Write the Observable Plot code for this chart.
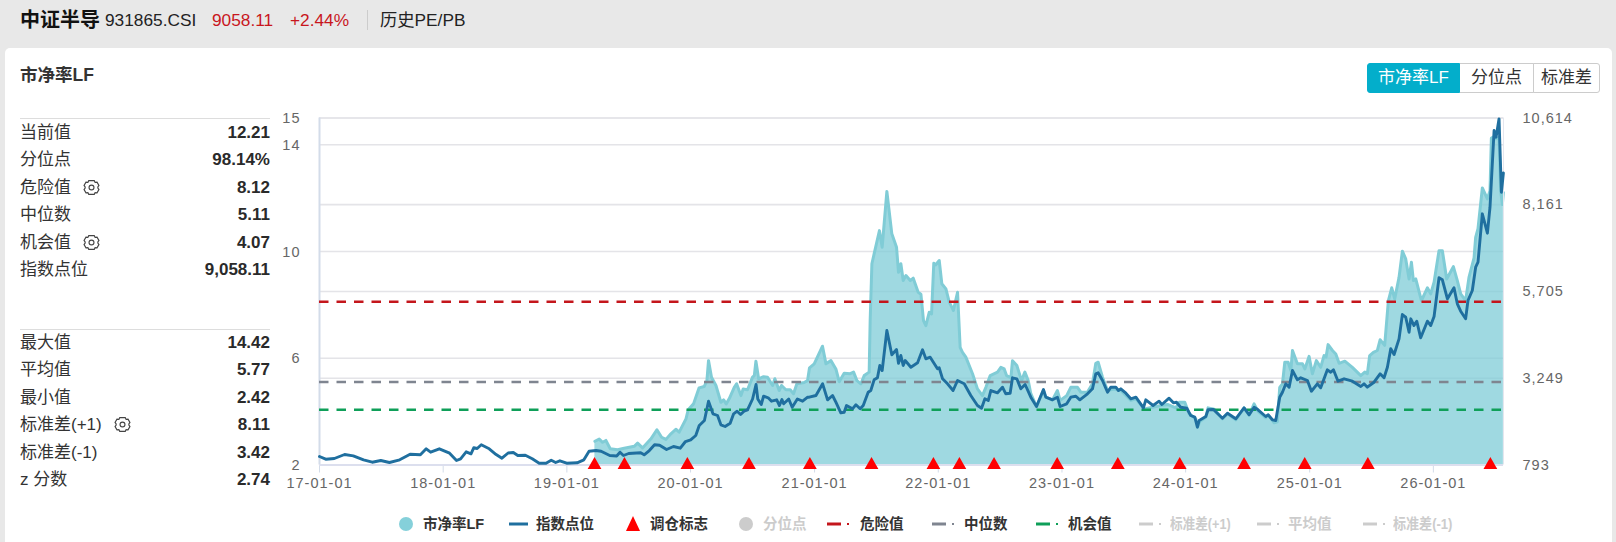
<!DOCTYPE html>
<html lang="zh">
<head>
<meta charset="utf-8">
<script src="https://cdn.jsdelivr.net/npm/d3@7"></script>
<script src="https://cdn.jsdelivr.net/npm/@observablehq/plot@0.6"></script>
<style>
html,body{margin:0;padding:0;}
body{width:1616px;height:542px;background:#e8e8e8;position:relative;overflow:hidden;font-family:"Liberation Sans","Noto Sans CJK SC",sans-serif;color:#222;}
.abs{position:absolute;white-space:nowrap;}
#card{position:absolute;left:5px;top:48px;width:1607px;height:500px;background:#fff;border-radius:5px;}
#chart{position:absolute;left:0;top:0;}
.hr{position:absolute;left:20px;width:250px;height:1px;background:#ddd;}
.lab{position:absolute;left:20px;font-size:17px;line-height:20px;color:#333;white-space:nowrap;}
.val{position:absolute;right:1346px;font-size:17px;line-height:20px;font-weight:bold;color:#2a2a2a;white-space:nowrap;}
.btn{position:absolute;top:63px;height:30px;line-height:28px;box-sizing:border-box;text-align:center;font-size:17px;border:1px solid #ccc;color:#333;background:#fff;}
.lg{position:absolute;top:514px;font-size:14.5px;line-height:20px;font-weight:bold;color:#333;white-space:nowrap;transform-origin:left center;}
.off{color:#ccc;}
.sw{position:absolute;top:514px;width:30px;height:20px;}
</style>
</head>
<body>
<div id="card"></div>
<div id="chart"></div>
<div id="ui"></div>
<script>
const titleName = "中证半导", titleCode = "931865.CSI", titlePrice = "9058.11", titleChange = "+2.44%", titleTab = "历史PE/PB";
const cardTitle = "市净率LF";
const statsTop = [["当前值","12.21"],["分位点","98.14%"],["危险值","8.12",1],["中位数","5.11"],["机会值","4.07",1],["指数点位","9,058.11"]];
const statsBottom = [["最大值","14.42"],["平均值","5.77"],["最小值","2.42"],["标准差(+1)","8.11",1],["标准差(-1)","3.42"],["z 分数","2.74"]];

const leftTicks = [15,14,10,6,2];
const rightTicks = [793,3249,5705,8161,10614];
const yearTicks = [2017,2018,2019,2020,2021,2022,2023,2024,2025,2026];
const dangerValue = 8.12, medianValue = 5.11, chanceValue = 4.07;

// time as years since 2017-01-01
const indexT = [0,.050,.120,.203,.273,.356,.426,.495,.565,.648,.732,.815,.862,.898,.968,1.051,1.107,1.140,1.185,1.224,1.246,1.274,1.307,1.371,1.427,1.474,1.524,1.566,1.602,1.663,1.719,1.775,1.830,1.872,1.908,1.942,1.997,2.081,2.136,2.178,2.234,2.275,2.345,2.401,2.428,2.456,2.498,2.595,2.623,2.665,2.707,2.748,2.804,2.860,2.915,2.957,2.999,3.040,3.068,3.110,3.143,3.179,3.216,3.243,3.277,3.318,3.346,3.374,3.402,3.430,3.458,3.499,3.527,3.541,3.569,3.588,3.625,3.652,3.694,3.716,3.736,3.750,3.791,3.819,3.861,3.903,3.944,
3.957,4.011,4.065,4.105,4.145,4.172,4.212,4.239,4.258,4.306,4.334,4.368,4.393,4.433,4.454,4.481,4.508,4.527,4.546,4.584,4.624,4.662,4.678,4.697,4.716,4.732,4.778,4.832,4.872,4.899,4.934,4.993,5.007,5.034,5.074,5.119,5.155,5.209,5.262,5.316,5.349,5.376,5.403,5.424,5.478,5.518,5.545,5.580,5.599,5.634,5.666,5.701,5.747,5.793,5.849,5.868,5.922,5.962,5.984,6.037,6.070,6.111,6.143,6.205,6.245,6.272,6.291,6.326,6.367,6.393,6.434,6.455,6.474,6.515,6.555,6.596,6.657,6.676,6.735,6.783,6.806,6.864,6.899,6.924,6.958,7.007,7.039,7.072,7.093,7.107,7.161,7.179,7.222,7.295,7.336,7.403,7.470,7.511,7.551,7.583,7.645,7.664,7.699,7.726,7.758,
7.780,7.807,7.834,7.861,7.901,7.928,7.982,8.014,8.062,8.089,8.143,8.170,8.192,8.229,8.278,8.345,8.413,8.439,8.466,8.520,8.569,8.601,8.628,8.655,8.682,8.722,8.749,8.776,8.803,8.817,8.843,8.865,8.897,8.951,8.978,9.005,9.045,9.072,9.113,9.166,9.193,9.220,9.260,9.279,9.314,9.341,9.360,9.395,9.436,9.457,9.490,9.506,9.530,9.549,9.565];
const indexV = [1033,957,977,1090,1053,940,872,920,864,940,1099,1082,1251,1155,1251,1127,920,968,1166,1110,1280,1260,1365,1251,1090,985,1133,1147,1062,1070,968,844,844,929,864,912,844,855,940,1183,1203,1183,1062,1048,1155,1062,1118,1138,1082,1203,1365,1353,1232,1317,1268,1458,1506,1628,1911,2052,2599,2242,2194,1931,1883,1976,2242,2316,2222,2316,2355,2661,3071,2661,2505,2740,2695,2599,2638,2477,2647,2525,2661,2429,2661,2599,2712,
2712,2760,3091,2638,2760,2570,2270,2287,2477,2383,2497,2383,2477,2853,2901,3204,3261,3609,3467,4599,3912,4062,3674,3892,3609,3750,3561,3685,4053,3798,3844,3515,3544,3232,3091,2901,3184,3091,2760,2477,2400,2666,2618,2901,2836,2995,2808,2825,3261,3232,2949,3071,2712,2449,2930,2712,2638,2712,2449,2525,2712,2740,2638,2808,2949,3374,3402,3184,2853,2995,2995,2901,2949,2825,2666,2712,2412,2638,2477,2599,2505,2684,2553,2570,2429,2400,2194,2146,1863,2052,2165,2355,2364,2117,2259,2100,2412,2214,2429,2355,2165,2214,2072,2052,2712,
2853,3091,2995,3467,3204,3261,3184,2881,3091,2978,3487,3419,3487,3165,3232,3165,3015,3091,2995,3136,3374,3261,3561,4082,3920,4364,5052,4976,4551,4930,4741,4863,4393,4863,4741,4996,6091,6034,5496,5808,5355,5146,4930,5448,5731,6391,6532,7902,7353,8089,10259,10070,10590,8513,9058];

const pbT = [2.225,2.260,2.287,2.314,2.349,2.408,2.462,2.543,2.570,2.610,2.678,2.726,2.764,2.799,2.839,2.879,2.906,2.961,2.979,3.022,3.067,3.108,3.130,3.143,3.167,3.203,3.243,3.265,3.286,3.310,3.351,3.370,3.405,3.423,3.458,3.499,3.513,3.526,3.548,3.588,3.620,3.661,3.679,3.714,3.733,3.768,3.803,3.830,3.857,3.916,3.943,3.959,3.997,4.064,4.092,4.132,4.172,4.199,4.239,4.288,
4.315,4.342,4.374,4.401,4.441,4.449,4.463,4.481,4.524,4.546,4.584,4.624,4.662,4.678,4.697,4.716,4.738,4.773,4.797,4.837,4.859,4.880,4.899,4.926,4.945,4.963,4.979,5.007,5.028,5.061,5.088,5.122,5.155,5.176,5.195,5.222,5.276,5.316,5.356,5.384,5.419,5.478,5.505,5.532,5.551,5.586,5.599,5.634,5.672,5.699,5.726,5.747,5.793,5.849,5.868,5.922,5.962,5.984,6.037,6.070,6.124,6.151,6.205,6.245,6.272,6.291,6.326,6.367,6.420,6.474,6.555,6.596,6.663,6.730,6.798,6.851,6.919,6.946,6.991,7.026,7.080,7.093,7.115,7.161,7.179,7.228,7.295,7.336,7.403,7.470,7.511,7.551,7.583,7.645,7.664,7.713,7.739,7.758,
7.780,7.799,7.826,7.848,7.861,7.901,7.942,7.961,7.995,8.022,8.054,8.089,8.116,8.132,8.149,8.184,8.211,8.238,8.284,8.345,8.413,8.445,8.466,8.485,8.515,8.547,8.569,8.606,8.636,8.663,8.687,8.722,8.749,8.776,8.803,8.822,8.838,8.857,8.903,8.951,8.978,9.005,9.045,9.072,9.107,9.161,9.193,9.220,9.260,9.287,9.328,9.341,9.360,9.395,9.436,9.457,9.468,9.490,9.506,9.530,9.543,9.557,9.565];
const pbV = [2.89,2.97,2.85,2.92,2.61,2.57,2.63,2.70,2.82,2.64,2.98,3.32,3.04,2.96,3.17,3.34,3.23,3.73,4.07,4.29,4.89,4.94,5.16,5.91,5.29,4.98,4.35,4.44,4.29,4.48,4.91,5.04,4.60,4.85,4.82,5.29,5.35,5.89,5.23,5.31,5.29,4.98,5.23,4.79,4.98,4.82,4.82,4.67,5.04,5.09,5.16,5.64,5.79,6.45,5.79,5.91,5.60,5.12,5.44,5.42,
5.48,5.16,5.04,5.35,5.48,7.41,9.54,9.91,10.78,10.16,12.25,10.66,10.16,9.22,9.54,8.91,9.10,8.91,9.00,8.47,8.40,7.41,7.22,7.72,7.66,9.56,9.50,9.66,8.79,8.60,8.10,7.79,8.47,6.41,6.22,6.04,5.42,4.85,4.60,4.91,5.35,5.48,5.66,5.60,5.35,5.27,5.91,5.73,5.16,5.48,5.16,4.67,4.19,4.79,4.54,4.44,4.79,4.42,4.60,4.91,4.91,4.73,4.73,5.04,5.81,5.85,5.29,4.79,4.85,4.79,4.42,4.48,4.10,4.16,4.23,4.27,4.14,4.35,4.35,3.92,3.73,3.42,3.64,3.79,4.14,4.09,3.73,3.92,3.69,4.14,3.87,4.29,4.01,3.77,3.87,3.58,3.62,4.91,
5.04,5.85,5.85,5.54,6.29,5.79,5.79,5.60,6.07,5.42,5.91,5.66,6.10,6.04,6.51,6.29,6.16,5.81,5.89,5.66,5.35,5.48,5.42,6.10,6.22,6.29,6.69,6.48,8.16,8.64,8.22,9.03,10.01,9.72,8.97,9.60,8.91,8.97,8.16,8.64,8.41,8.85,10.03,10.03,8.97,9.43,8.91,8.41,8.16,9.03,9.76,10.53,10.85,12.38,11.97,12.28,14.25,14.30,14.22,14.28,12.28,11.76,12.21];

const signalT = [2.222,2.464,2.972,3.47,3.962,4.46,4.96,5.17,5.45,5.96,6.45,6.95,7.47,7.96,8.47,9.46];

const xEnd = 9.566;
const toDate = t => new Date(Date.UTC(2017,0,1) + t*365.25*864e5);
const idxToY = v => 2 + (v-793)/(10614-793)*13;
const yToIdx = y => 793 + (y-2)/13*(10614-793);
const pbRows = pbT.map((t,i)=>({d:toDate(t),v:pbV[i]}));
const idxRows = indexT.map((t,i)=>({d:toDate(t),v:idxToY(indexV[i])}));
const sigRows = signalT.map(t=>({d:toDate(t)}));
const xTicks = yearTicks.map(y=>new Date(Date.UTC(y,0,1)));
const tickStyle = {fontFamily:"'Liberation Sans',sans-serif",fontSize:"14.5px",letterSpacing:"1px",background:"transparent"};

const plot = Plot.plot({
  width:1616,height:500,
  marginLeft:319,marginRight:113,marginTop:117.5,marginBottom:35.5,
  style:tickStyle,
  x:{type:"time",domain:[toDate(0),toDate(xEnd)]},
  y:{domain:[2,15],label:null},
  marks:[
    Plot.ruleY([...leftTicks,...rightTicks.map(idxToY)],{stroke:"#e4e4e8",strokeWidth:1.6}),
    Plot.axisY({ticks:leftTicks,anchor:"left",tickSize:0,tickPadding:19,dy:0.5,label:null,color:"#666",fill:"#666"}),
    Plot.axisY({ticks:rightTicks.map(idxToY),tickFormat:v=>d3.format(",")(Math.round(yToIdx(v))),anchor:"right",tickSize:0,tickPadding:19,label:null,color:"#666",fill:"#666"}),
    Plot.axisX({ticks:xTicks,tickFormat:d3.utcFormat("%y-%m-%d"),tickSize:8,tickPadding:5,label:null,stroke:"#d3dce9",fill:"#666"}),
    Plot.areaY(pbRows,{x:"d",y1:2,y2:"v",fill:"#7ccbd6",fillOpacity:.73}),
    Plot.lineY(pbRows,{x:"d",y:"v",stroke:"#80ccd6",strokeWidth:3}),
    Plot.ruleX([toDate(0)],{stroke:"#d3dce9",strokeWidth:2}),
    Plot.ruleY([2],{stroke:"#dcdfee",strokeWidth:2}),
    Plot.ruleX([toDate(xEnd)],{stroke:"#e4e6ee",strokeWidth:1}),
    Plot.ruleY([dangerValue],{stroke:"#c4161c",strokeWidth:2.5,strokeDasharray:"9.5,8"}),
    Plot.ruleY([medianValue],{stroke:"#7f8590",strokeWidth:2.5,strokeDasharray:"9.5,8"}),
    Plot.ruleY([chanceValue],{stroke:"#0f9f59",strokeWidth:2.5,strokeDasharray:"9.5,8"}),
    Plot.lineY(idxRows,{x:"d",y:"v",stroke:"#1f6f9f",strokeWidth:2.9}),
    Plot.dot(sigRows,{x:"d",y:()=>2,symbol:"triangle",r:5.1,fill:"#ff0000",stroke:"none"})
  ]
});
document.getElementById("chart").appendChild(plot);

const ui = document.getElementById("ui");
function el(cls,style,html){const e=document.createElement("div");e.className=cls;e.style.cssText=style;e.innerHTML=html;ui.appendChild(e);return e;}
const gear = `<svg width="17" height="17" viewBox="-8 -8 16 16" style="vertical-align:-3px;margin-left:3px"><path d="M-2.6-6.4H2.6L3.4-4.8 5.2-5 7-2 6-.6V.6L7 2 5.2 5 3.4 4.8 2.6 6.4H-2.6L-3.4 4.8-5.2 5-7 2-6 .6V-.6L-7-2-5.2-5-3.4-4.8Z" fill="none" stroke="#444" stroke-width="1.1"/><circle r="2.3" fill="none" stroke="#444" stroke-width="1.1"/></svg>`;

// header
el("abs","left:20px;top:8px;font-size:20px;line-height:24px;font-weight:bold;color:#111;",titleName);
el("abs","left:105px;top:10px;font-size:17.3px;line-height:20px;color:#222;",titleCode);
el("abs","left:212px;top:10px;font-size:17.3px;line-height:20px;color:#c8161d;",titlePrice);
el("abs","left:290px;top:10px;font-size:17.3px;line-height:20px;color:#c8161d;",titleChange);
el("abs","left:367px;top:10px;width:1px;height:20px;background:#ccc;","");
el("abs","left:380px;top:10px;font-size:17.3px;line-height:20px;color:#222;",titleTab);
el("abs","left:20px;top:64px;font-size:17.5px;line-height:22px;font-weight:bold;color:#333;",cardTitle);

// buttons
el("btn","left:1367px;width:93px;background:#03aecb;border-color:#03aecb;color:#fff;border-radius:3px 0 0 3px;","市净率LF");
el("btn","left:1460px;width:74px;border-left:none;","分位点");
el("btn","left:1533px;width:67px;border-radius:0 3px 3px 0;","标准差");

// stats
function stats(rows,lineY,firstY){
  el("hr",`top:${lineY}px;`,"");
  rows.forEach((r,i)=>{
    const top = firstY + i*27.4 - 9;
    el("lab",`top:${top}px;`,r[0]+(r[2]?`&nbsp;&nbsp;${gear}`:""));
    el("val",`top:${top}px;`,r[1]);
  });
}
stats(statsTop,118,132);
stats(statsBottom,329,342);

// legend
function lineSw(x,color,dashed){
  const s = dashed
    ? `<svg width="30" height="20"><line x1="0" x2="14" y1="10" y2="10" stroke="${color}" stroke-width="3"/><line x1="20" x2="22" y1="10" y2="10" stroke="${color}" stroke-width="2"/></svg>`
    : `<svg width="30" height="20"><line x1="0" x2="19" y1="10" y2="10" stroke="${color}" stroke-width="3"/></svg>`;
  el("sw",`left:${x}px;`,s);
}
el("sw","left:399px;",`<svg width="30" height="20"><circle cx="7" cy="10" r="7" fill="#85d0da"/></svg>`);
el("lg","left:423px;","市净率LF");
lineSw(509,"#1f6f9f",false);
el("lg","left:536px;","指数点位");
el("sw","left:626px;",`<svg width="30" height="20"><path d="M7 2 L14 17 L0 17 Z" fill="#ff0000"/></svg>`);
el("lg","left:650px;","调仓标志");
el("sw","left:739px;",`<svg width="30" height="20"><circle cx="7" cy="10" r="7" fill="#ccc"/></svg>`);
el("lg off","left:763px;","分位点");
lineSw(827,"#c4161c",true);
el("lg","left:860px;","危险值");
lineSw(932,"#7f8590",true);
el("lg","left:964px;","中位数");
lineSw(1036,"#0f9f59",true);
el("lg","left:1068px;","机会值");
lineSw(1139,"#ccc",true);
el("lg off","left:1170px;transform:scaleX(.87);","标准差(+1)");
lineSw(1257,"#ccc",true);
el("lg off","left:1288px;","平均值");
lineSw(1363,"#ccc",true);
el("lg off","left:1393px;transform:scaleX(.9);","标准差(-1)");
</script>
</body>
</html>
